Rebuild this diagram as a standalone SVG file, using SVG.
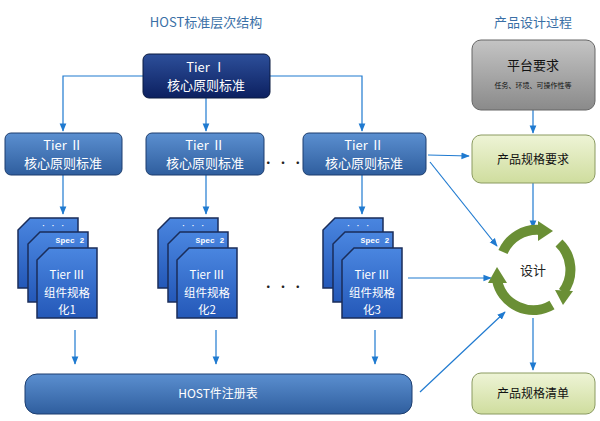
<svg xmlns="http://www.w3.org/2000/svg" width="600" height="421" viewBox="0 0 600 421">
<defs>
<linearGradient id="gb" x1="0" y1="0" x2="0" y2="1"><stop offset="0" stop-color="#5b8fd0"/><stop offset="1" stop-color="#2f5e9e"/></linearGradient>
<linearGradient id="gn" x1="0" y1="0" x2="0" y2="1"><stop offset="0" stop-color="#2d4f9a"/><stop offset="1" stop-color="#0c2060"/></linearGradient>
<linearGradient id="gg" x1="0" y1="0" x2="0" y2="1"><stop offset="0" stop-color="#c4c4c4"/><stop offset="1" stop-color="#8a8a8a"/></linearGradient>
<linearGradient id="gl" x1="0" y1="0" x2="0" y2="1"><stop offset="0" stop-color="#eef4d6"/><stop offset="1" stop-color="#cfdd9e"/></linearGradient>
<linearGradient id="gc" x1="0" y1="0" x2="0" y2="1"><stop offset="0" stop-color="#4a86e0"/><stop offset="1" stop-color="#2458b8"/></linearGradient>
<marker id="a" viewBox="0 0 10 10" refX="9" refY="5" markerWidth="7" markerHeight="7" orient="auto"><path d="M0,1 L10,5 L0,9 z" fill="#1f7ad0"/></marker>
<g id="card"><path d="M12,0 H60 V70 H0 V12 Z" fill="url(#gc)" stroke="#1a2d5a" stroke-width="1.5"/></g>
</defs>
<style>
text{font-family:"Noto Sans CJK SC","Liberation Sans",sans-serif;text-anchor:middle}
.w{fill:#fff;font-size:13px}
.t{fill:#fff;font-size:11.5px}
.k{fill:#111;font-size:12px}
.sp{fill:#fff;font-size:8px;font-family:"Liberation Mono",monospace;font-weight:bold}
.c line,.c path{stroke:#1f7ad0;stroke-width:1.2;fill:none;marker-end:url(#a)}
</style>
<text x="206" y="27" fill="#3a6fa6" font-size="13">HOST标准层次结构</text>
<text x="533" y="27" fill="#3a6fa6" font-size="13">产品设计过程</text>
<g class="c">
<line x1="206" y1="98" x2="206" y2="131"/>
<path d="M143,76 H63 V131"/>
<path d="M270,76 H362 V131"/>
<line x1="63" y1="175" x2="63" y2="214"/>
<line x1="206" y1="175" x2="206" y2="214"/>
<line x1="362" y1="175" x2="362" y2="214"/>
<line x1="75" y1="330" x2="75" y2="364"/>
<line x1="216" y1="330" x2="216" y2="364"/>
<line x1="375" y1="330" x2="375" y2="364"/>
<line x1="533" y1="110" x2="533" y2="133"/>
<line x1="533" y1="183" x2="533" y2="228"/>
<line x1="533" y1="318" x2="533" y2="370"/>
<line x1="428" y1="155" x2="469" y2="156"/>
<line x1="430" y1="162" x2="497" y2="246"/>
<line x1="408" y1="278" x2="491" y2="278"/>
<line x1="420" y1="392" x2="505" y2="312"/>
</g>
<g id="tier1"><rect x="143" y="54" width="127" height="44" rx="6" fill="url(#gn)" stroke="#0a1a40"/><text class="w" x="206" y="72">Tier Ⅰ</text><text class="w" x="206" y="90">核心原则标准</text></g>
<g id="tier2a"><rect x="5" y="133" width="117" height="42" rx="6" fill="url(#gb)" stroke="#1c3d6e"/><text class="w" x="63" y="150">Tier Ⅱ</text><text class="w" x="63" y="168">核心原则标准</text></g>
<g id="tier2b"><rect x="146" y="133" width="118" height="42" rx="6" fill="url(#gb)" stroke="#1c3d6e"/><text class="w" x="205" y="150">Tier Ⅱ</text><text class="w" x="205" y="168">核心原则标准</text></g>
<g id="tier2c"><rect x="303" y="133" width="123" height="42" rx="6" fill="url(#gb)" stroke="#1c3d6e"/><text class="w" x="364" y="150">Tier Ⅱ</text><text class="w" x="364" y="168">核心原则标准</text></g>
<text x="283" y="168" fill="#222" font-size="12">· · ·</text>
<text x="283" y="292" fill="#222" font-size="12">· · ·</text>
<g id="spec1" transform="translate(18,218)"><use href="#card"/><text class="sp" x="35" y="10">· · ·</text><use href="#card" x="10" y="14"/><text class="sp" x="52" y="25">Spec 2</text><use href="#card" x="19" y="30"/><text class="t" x="49" y="61">Tier Ⅲ</text><text class="t" x="49" y="79">组件规格</text><text class="t" x="49" y="96">化1</text></g>
<g id="spec2" transform="translate(158,218)"><use href="#card"/><text class="sp" x="35" y="10">· · ·</text><use href="#card" x="10" y="14"/><text class="sp" x="52" y="25">Spec 2</text><use href="#card" x="19" y="30"/><text class="t" x="49" y="61">Tier Ⅲ</text><text class="t" x="49" y="79">组件规格</text><text class="t" x="49" y="96">化2</text></g>
<g id="spec3" transform="translate(323,218)"><use href="#card"/><text class="sp" x="35" y="10">· · ·</text><use href="#card" x="10" y="14"/><text class="sp" x="52" y="25">Spec 2</text><use href="#card" x="19" y="30"/><text class="t" x="49" y="61">Tier Ⅲ</text><text class="t" x="49" y="79">组件规格</text><text class="t" x="49" y="96">化3</text></g>
<g id="registry"><rect x="25" y="374" width="387" height="40" rx="12" fill="url(#gb)" stroke="#1c3d6e"/><text x="218" y="398" fill="#fff" font-size="12">HOST件注册表</text></g>
<g id="platform"><rect x="472" y="40" width="123" height="70" rx="9" fill="url(#gg)" stroke="#666"/><text x="533" y="70" fill="#111" font-size="13">平台要求</text><text x="533" y="88" fill="#111" font-size="7">任务、环境、可操作性等</text></g>
<g id="prodreq"><rect x="472" y="135" width="123" height="48" rx="9" fill="url(#gl)" stroke="#8a9a60"/><text class="k" x="533" y="164">产品规格要求</text></g>
<g id="design">
<g fill="none" stroke="#6a8f35" stroke-width="10">
<path d="M503,252 A37,37 0 0 1 540,230"/>
<path d="M559,243 A37,37 0 0 1 563,292"/>
<path d="M552,305 A37,37 0 0 1 497,280"/>
</g>
<path d="M538,221 L553,231 L538,241 Z" fill="#6a8f35"/>
<path d="M555,290 L573,291 L563,305 Z" fill="#6a8f35"/>
<path d="M488,283 L497,267 L507,283 Z" fill="#6a8f35"/>
<text x="533" y="275" fill="#222" font-size="13">设计</text></g>
<g id="prodlist"><rect x="472" y="373" width="123" height="41" rx="9" fill="url(#gl)" stroke="#8a9a60"/><text class="k" x="533" y="398">产品规格清单</text></g>
</svg>
